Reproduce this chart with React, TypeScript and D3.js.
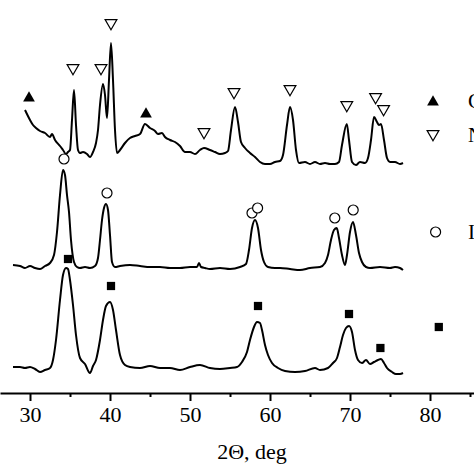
import React, { useEffect, useRef } from "react";
import * as d3 from "d3";

// 2θ (deg), intensity (a.u., stacked with offsets)
const topSeries: [number, number][] = [
  [29.375, 283], [30, 273], [30.375, 268], [30.75, 265], [31.25, 262], [31.875, 260], [32.5, 256], [32.75, 259],
  [33.125, 253], [33.75, 247], [34.125, 243], [34.5, 239], [34.75, 241], [35, 243], [35.25, 273], [35.5, 303],
  [35.75, 268], [36, 243], [36.25, 240], [36.625, 241], [37.125, 239], [37.5, 236], [37.875, 241], [38.25, 250],
  [38.5, 263], [38.75, 288], [39.125, 309], [39.375, 298], [39.625, 275], [39.875, 313], [40.125, 350],
  [40.375, 313], [40.625, 263], [40.875, 240], [41.25, 243], [41.875, 250], [42.5, 255], [43.125, 257],
  [43.75, 259], [44.375, 269], [45, 265], [45.625, 262], [46, 259], [46.5, 260], [46.875, 256], [47.5, 253],
  [48.125, 251], [48.75, 247], [49.375, 241], [50, 241], [50.625, 239], [51.25, 243], [51.75, 245], [52.5, 243],
  [53.125, 241], [53.75, 239], [54.375, 240], [54.75, 242], [55.125, 263], [55.625, 286], [56, 271],
  [56.375, 251], [56.875, 245], [57.5, 240], [58.125, 236], [58.75, 231], [59.375, 229], [60, 229],
  [60.625, 231], [61.25, 232], [61.625, 238], [62.125, 268], [62.5, 286], [62.875, 273], [63.25, 243],
  [63.625, 230], [64.375, 231], [65, 229], [65.625, 231], [66.25, 229], [66.875, 230], [67.5, 229],
  [68.125, 229], [68.625, 231], [69, 248], [69.6, 269], [69.875, 253], [70.25, 231], [70.75, 228],
  [71.25, 231], [71.875, 230], [72.25, 235], [72.625, 253], [73, 276], [73.375, 271], [73.625, 268],
  [73.875, 269], [74.25, 253], [74.625, 235], [75, 231], [75.625, 231], [76.25, 229], [76.625, 230],
];

const middleSeries: [number, number][] = [
  [27.875, 128], [28.75, 127], [29.375, 125], [30, 127], [30.625, 125], [31.25, 124], [31.875, 127], [32.5, 130],
  [33, 138], [33.375, 161], [33.75, 198], [34.125, 223], [34.375, 218], [34.625, 198], [34.875, 181],
  [35.125, 153], [35.5, 131], [35.875, 126], [36.25, 125], [36.875, 126], [37.5, 125], [38.125, 127],
  [38.5, 135], [38.75, 153], [39, 173], [39.25, 185], [39.5, 189], [39.75, 183], [40, 158], [40.25, 131],
  [40.625, 126], [41.25, 127], [42.5, 128], [43.75, 127], [45, 126], [46.25, 126], [47.5, 125], [48.75, 125],
  [50, 126], [50.875, 126], [51.125, 130], [51.375, 126], [51.875, 125], [52.5, 124], [53.75, 125], [55, 124],
  [56.25, 126], [57, 129], [57.375, 143], [57.75, 165], [58.125, 173], [58.5, 165], [58.875, 143],
  [59.25, 131], [59.75, 126], [60.625, 125], [61.25, 125], [62.5, 124], [63.75, 123], [65, 125], [66.25, 126],
  [66.875, 130], [67.25, 138], [67.625, 153], [68, 163], [68.35, 165], [68.625, 155], [69, 138],
  [69.375, 128], [69.625, 138], [70, 161], [70.375, 171], [70.75, 158], [71.125, 140], [71.5, 131],
  [72, 126], [72.5, 125], [73.75, 126], [75, 125], [75.625, 126], [76.25, 125], [76.625, 123],
];

const bottomSeries: [number, number][] = [
  [27.875, 26], [28.75, 26], [29.375, 25], [30, 26], [30.625, 24], [31.25, 21], [31.875, 23], [32.5, 25],
  [32.875, 33], [33.25, 53], [33.75, 93], [34.125, 118], [34.5, 125], [34.75, 124], [35, 113], [35.375, 88],
  [35.75, 58], [36.25, 35], [36.875, 29], [37.5, 20], [37.875, 27], [38.25, 33], [38.75, 53], [39.125, 73],
  [39.5, 87], [40, 91], [40.375, 83], [40.75, 63], [41.25, 38], [41.875, 28], [42.5, 26], [43.75, 25],
  [45, 27], [46.25, 25], [47.5, 25], [48.75, 23], [50, 26], [51.25, 28], [52.5, 25], [53.75, 24], [55, 25],
  [55.875, 26], [56.5, 31], [57.125, 41], [57.5, 53], [58, 66], [58.375, 71], [58.75, 70], [59, 63],
  [59.375, 48], [59.75, 38], [60.25, 30], [61, 25], [61.875, 22], [63.125, 21], [64.375, 22], [65.625, 25],
  [66.25, 23], [67.25, 25], [67.875, 30], [68.375, 35], [68.75, 46], [69.125, 58], [69.5, 65], [69.875, 67],
  [70.25, 61], [70.625, 43], [71, 33], [71.5, 30], [72, 33], [72.5, 29], [73, 31], [73.5, 33], [73.875, 34],
  [74.25, 30], [74.625, 25], [75.25, 21], [75.75, 19], [76.25, 19], [76.625, 20],
];

// phase markers [2θ, intensity]
const filledTriangles: [number, number][] = [[29.875, 296], [44.5, 280]];
const openTriangles: [number, number][] = [
  [35.375, 324], [38.875, 324], [40.125, 369], [51.75, 260], [55.5, 300], [62.5, 303], [69.6, 287], [73.2, 295], [74.2, 283],
];
const openCircles: [number, number][] = [
  [34.25, 234], [39.625, 200], [57.75, 180], [58.45, 185], [68.1, 175], [70.4, 183],
];
const filledSquares: [number, number][] = [
  [34.75, 134], [40.125, 107], [58.5, 87], [69.875, 79], [73.8, 45],
];

// legend: symbol, position (2θ, intensity), label (cut off by the frame edge as in the source)
const legendSymbols = ["filledTriangle", "openTriangle", "openCircle", "filledSquare"];
const legendX = [80.375, 80.375, 80.7, 81.1];
const legendY = [292, 258, 161, 66];
const legendLabels = ["C", "N", "I", ""];

const majorTicks = [30, 40, 50, 60, 70, 80];
const minorTicks = [35, 45, 55, 65, 75, 85];
const xLabel = "2Θ, deg";

const W = 474;
const H = 474;
const axisY = 393;
const FONT = "'Liberation Serif', 'Times New Roman', serif";

export default function App() {
  const axisRef = useRef<SVGGElement>(null);

  const x = d3.scaleLinear().domain([30, 80]).range([30, 430]);
  const xFull = d3.scaleLinear().domain([x.invert(0), x.invert(W)]).range([0, W]);
  const y = d3.scaleLinear().domain([0, 393]).range([axisY, 0]);

  const line = d3
    .line<[number, number]>()
    .x((d) => x(d[0]))
    .y((d) => y(d[1]))
    .curve(d3.curveMonotoneX);

  useEffect(() => {
    if (!axisRef.current) return;
    const g = d3.select(axisRef.current);
    g.selectAll("*").remove();
    const major = d3
      .axisBottom(xFull)
      .tickValues(majorTicks)
      .tickSize(8)
      .tickSizeOuter(0)
      .tickPadding(5)
      .tickFormat((d) => String(d));
    const gm = g.append("g").call(major);
    gm.select(".domain").attr("stroke", "#000").attr("stroke-width", 2);
    gm.selectAll(".tick line").attr("stroke", "#000").attr("stroke-width", 2);
    gm.selectAll(".tick text")
      .attr("fill", "#000")
      .style("font-family", FONT)
      .style("font-size", "22px");
    const minor = d3
      .axisBottom(xFull)
      .tickValues(minorTicks)
      .tickSize(4)
      .tickSizeOuter(0)
      .tickFormat(() => "");
    const gn = g.append("g").call(minor);
    gn.select(".domain").remove();
    gn.selectAll(".tick line").attr("stroke", "#000").attr("stroke-width", 2);
  }, []);

  const triUp = d3.symbol().type(d3.symbolTriangle).size(60)() as string;
  const squarePath = d3.symbol().type(d3.symbolSquare).size(68)() as string;

  const drawTriangle = (cx: number, cy: number, filled: boolean, key: string) =>
    filled ? (
      <path key={key} d={triUp} transform={`translate(${cx},${cy + 1})`} fill="#000" />
    ) : (
      <path
        key={key}
        d={triUp}
        transform={`translate(${cx},${cy - 1}) scale(1,-1)`}
        fill="#fff"
        stroke="#000"
        strokeWidth={1.2}
      />
    );
  const drawCircle = (cx: number, cy: number, key: string) => (
    <circle key={key} cx={cx} cy={cy} r={5} fill="#fff" stroke="#000" strokeWidth={1.2} />
  );
  const drawSquare = (cx: number, cy: number, key: string) => (
    <path key={key} d={squarePath} transform={`translate(${cx},${cy})`} fill="#000" />
  );

  const drawSymbol = (type: string, cx: number, cy: number, key: string) => {
    if (type === "filledTriangle") return drawTriangle(cx, cy, true, key);
    if (type === "openTriangle") return drawTriangle(cx, cy, false, key);
    if (type === "openCircle") return drawCircle(cx, cy, key);
    return drawSquare(cx, cy, key);
  };

  return (
    <svg
      width={W}
      height={H}
      style={{ position: "absolute", left: 0, top: 0, background: "#fff" }}
    >
      <rect width={W} height={H} fill="#fff" />
      {[topSeries, middleSeries, bottomSeries].map((s, i) => (
        <path key={i} d={line(s) as string} fill="none" stroke="#000" strokeWidth={2} strokeLinejoin="round" />
      ))}
      {filledTriangles.map((d, i) => drawTriangle(x(d[0]), y(d[1]), true, `ft${i}`))}
      {openTriangles.map((d, i) => drawTriangle(x(d[0]), y(d[1]), false, `ot${i}`))}
      {openCircles.map((d, i) => drawCircle(x(d[0]), y(d[1]), `oc${i}`))}
      {filledSquares.map((d, i) => drawSquare(x(d[0]), y(d[1]), `fs${i}`))}
      {legendSymbols.map((t, i) => (
        <g key={`lg${i}`}>
          {drawSymbol(t, x(legendX[i]), y(legendY[i]), `ls${i}`)}
          {legendLabels[i] && (
            <text
              x={468}
              y={y(legendY[i]) + 7}
              fontFamily={FONT}
              fontSize={21}
              fill="#000"
            >
              {legendLabels[i]}
            </text>
          )}
        </g>
      ))}
      <g ref={axisRef} transform={`translate(0,${axisY})`} />
      <text x={252} y={459} textAnchor="middle" fontFamily={FONT} fontSize={22} fill="#000">
        {xLabel}
      </text>
    </svg>
  );
}
